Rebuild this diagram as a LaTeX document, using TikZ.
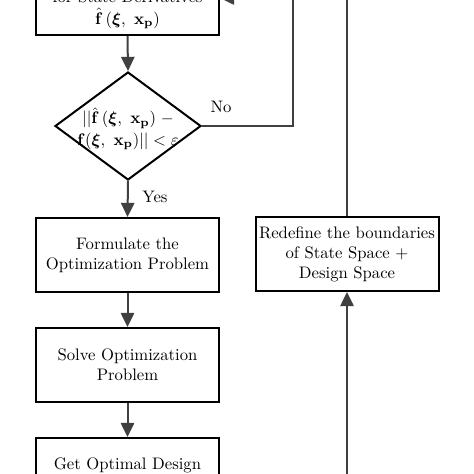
\documentclass[tikz,border=0pt]{standalone}
\usepackage{amsmath,amssymb,bm}
\usetikzlibrary{arrows.meta,shapes.geometric}
\begin{document}
\begin{tikzpicture}[x=0.6pt,y=-0.6pt,
  box/.style={draw=black,line width=1.2pt,rectangle,minimum width=109.8pt,minimum height=44.4pt,inner sep=0pt,align=center,font=\normalsize},
  dec/.style={draw=black,line width=1.2pt,diamond,minimum width=87.6pt,minimum height=64.8pt,inner sep=0pt},
  txt/.style={align=center,inner sep=0pt},
  conn/.style={draw=black!75,line width=1.2pt},
  arr/.style={conn,-{Triangle[length=8.5pt,width=8pt]}},
  lbl/.style={inner sep=0pt}]
\useasboundingbox (0,0) rectangle (474,474);
\clip (0,0) rectangle (474,474);
% nodes
\node[box] (top) at (127.5,-2) {};
\node[txt] (toptxt) at (127.5,10) {for State Derivatives\\[1pt] $\hat{\mathbf{f}}\,(\bm{\xi},\ \mathbf{x}_{\mathbf{p}})$};
\node[dec] (dia) at (128,126) {};
\node[txt] (diatxt) at (128,129) {$||\hat{\mathbf{f}}\,(\bm{\xi},\ \mathbf{x}_{\mathbf{p}})\;-$\\[1pt] $\mathbf{f}(\bm{\xi},\ \mathbf{x}_{\mathbf{p}})||<\varepsilon$};
\node[box] (form) at (127.5,255) {Formulate the\\Optimization Problem};
\node[box] (solve) at (127.5,365) {Solve Optimization\\Problem};
\node[box] (opt) at (127.5,475) {Get Optimal Design\\\phantom{Design}};
\node[box] (red) at (347,254) {Redefine the boundaries\\of State Space $+$\\Design Space};
\node[lbl] (no) at (221,107) {No};
\node[lbl] (yes) at (155,197) {Yes};
% free ends
\coordinate (nc) at (293,126);
\coordinate (rtop) at (347,-60);
\coordinate (rbot) at (347,540);
% connectors
\draw[arr] (top.south) -- (dia.north);
\draw[arr] (dia.south) -- (form.north);
\draw[arr] (form.south) -- (solve.north);
\draw[arr] (solve.south) -- (opt.north);
\draw[arr] (dia.east) -- (nc) |- (top.east);
\draw[conn] (red.north) -- (rtop);
\draw[arr] (rbot) -- (red.south);
\end{tikzpicture}
\end{document}
